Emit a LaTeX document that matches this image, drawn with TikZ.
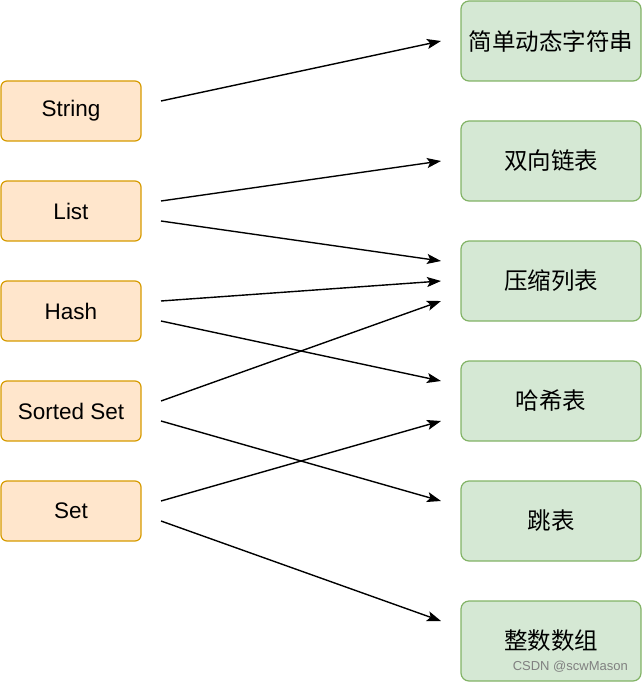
\documentclass[tikz,border=0pt]{standalone}
\usepackage{fontspec}
\setmainfont{Liberation Sans}
\newfontfamily\cjk{Noto Sans CJK SC}
\usetikzlibrary{arrows.meta}
\definecolor{ofill}{HTML}{FFE6CC}\definecolor{odraw}{HTML}{D79B00}
\definecolor{gfill}{HTML}{D5E8D4}\definecolor{gdraw}{HTML}{82B366}
\begin{document}
\begin{tikzpicture}[x=1pt,y=-1pt,
 lbox/.style={draw=odraw,fill=ofill,line width=1.2pt,rounded corners=6pt,minimum width=140pt,minimum height=60pt,inner sep=0pt,font=\fontsize{22.5}{26}\selectfont},
 rbox/.style={draw=gdraw,fill=gfill,line width=1.2pt,rounded corners=8pt,minimum width=180pt,minimum height=80pt,inner sep=0pt,font=\cjk\fontsize{23.5}{27}\selectfont},
 arr/.style={line width=1.4pt,-{Stealth[length=14pt,width=10pt,inset=3pt]}}]
\useasboundingbox (0,0) rectangle (642,682);
\node[lbox] (s) at (71,111) {String};
\node[lbox] (l) at (71,211) {List};
\node[lbox] (h) at (71,311) {Hash};
\node[lbox] (z) at (71,411) {Sorted Set};
\node[lbox] (t) at (71,511) {Set};
\node[rbox] (r1) at (551,41) {简单动态字符串};
\node[rbox] (r2) at (551,161) {双向链表};
\node[rbox] (r3) at (551,281) {压缩列表};
\node[rbox] (r4) at (551,401) {哈希表};
\node[rbox] (r5) at (551,521) {跳表};
\node[rbox] (r6) at (551,641) {整数数组};
\foreach \n/\y in {a1/101,a2/201,a3/221,a4/301,a5/321,a6/401,a7/421,a8/501,a9/521}
  \coordinate (\n) at (161,\y);
\foreach \n/\y in {b1/41,b2/161,b3/261,b4/281,b5/381,b6/301,b7/501,b8/421,b9/621}
  \coordinate (\n) at (441,\y);
\foreach \i in {1,...,9} \draw[arr] (a\i) -- (b\i);
\node[text=gray,font=\fontsize{13}{15}\selectfont,anchor=east,inner sep=0pt] (wm) at (628,667) {CSDN @scwMason};
\end{tikzpicture}
\end{document}
